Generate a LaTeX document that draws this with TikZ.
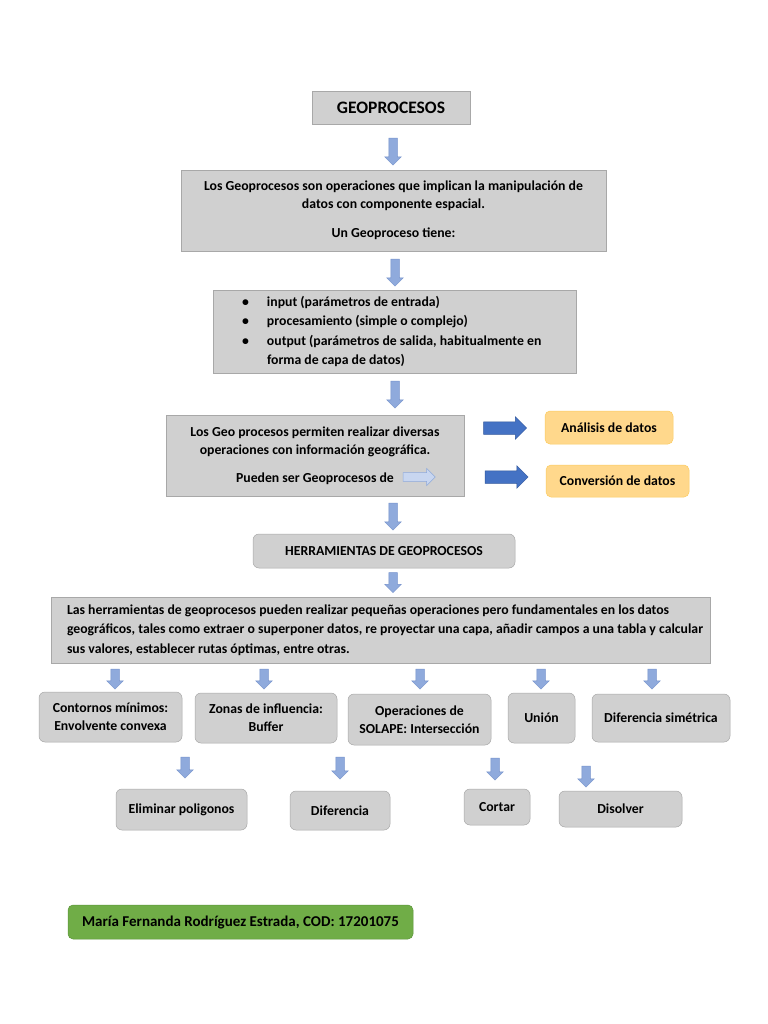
\documentclass[tikz,border=0pt]{standalone}
\usepackage{fontspec}
\setmainfont{Carlito}
\usepackage{xcolor}
\usepackage{tikz}
\usetikzlibrary{shapes.arrows,positioning}

\newdimen\px \px=0.2811mm

\definecolor{boxgray}{RGB}{208,208,208}
\definecolor{boxline}{RGB}{168,168,168}
\definecolor{arrowblue}{RGB}{143,170,220}
\definecolor{arrowline}{RGB}{118,146,204}
\definecolor{palefill}{RGB}{200,214,240}
\definecolor{darkblue}{RGB}{68,114,196}
\definecolor{darkline}{RGB}{50,88,156}
\definecolor{orfill}{RGB}{255,216,140}
\definecolor{orline}{RGB}{252,204,96}
\definecolor{grfill}{RGB}{112,173,71}
\definecolor{grline}{RGB}{92,150,58}

\tikzset{
  graybox/.style={draw=boxline, fill=boxgray, inner sep=0pt, align=flush center,
    font=\fontsize{11}{14.4}\selectfont\bfseries},
  roundbox/.style={graybox, rounded corners=6*\px},
  orbox/.style={graybox, draw=orline, fill=orfill, rounded corners=5*\px},
  downarrow/.style={single arrow, rotate=-90, draw=arrowline,
    fill=arrowblue, minimum width=16*\px, inner xsep=0pt, inner ysep=4*\px,
    single arrow head extend=4*\px},
  bluearrow/.style={single arrow, draw=darkline, fill=darkblue,
    minimum height=43*\px, minimum width=22*\px, inner xsep=0pt,
    inner ysep=6*\px, single arrow head extend=5*\px}
}

\begin{document}
\begin{tikzpicture}[x=0.2811mm, y=-0.2811mm]
  \useasboundingbox[fill=white] (0,0) rectangle (768,1024);

  \node[graybox, minimum width=158*\px, minimum height=33*\px,
    font=\fontsize{14}{17}\selectfont\bfseries] (title) at (391,107.5) {GEOPROCESOS};
  \node[downarrow, minimum height=27*\px] (a1) at (393,149.5) {};
  \node[graybox, minimum width=425*\px, minimum height=81*\px] (def) at (393.5,210.5)
    {Los Geoprocesos son operaciones que implican la manipulación de\\
     datos con componente espacial.\\[9pt]
     Un Geoproceso tiene:};
  \node[downarrow, minimum height=27*\px] (a2) at (395,270.5) {};
  \node[graybox, minimum height=83*\px, text width=363*\px, align=flush left,
    font=\fontsize{11}{15.6}\selectfont\bfseries] (parts) at (394.5,331.5)
    {\hspace*{29\px}\makebox[25\px][l]{\textbullet}input (parámetros de entrada)\\
     \hspace*{29\px}\makebox[25\px][l]{\textbullet}procesamiento (simple o complejo)\\
     \hspace*{29\px}\makebox[25\px][l]{\textbullet}output (parámetros de salida, habitualmente en\\
     \hspace*{54\px}forma de capa de datos)};
  \node[downarrow, minimum height=27*\px] (a3) at (395,392.5) {};
  \node[graybox, minimum width=298*\px, minimum height=81*\px] (uses) at (315,455.5)
    {Los Geo procesos permiten realizar diversas\\
     operaciones con información geográfica.\\[8pt]
     Pueden ser Geoprocesos de};
  \node[single arrow, draw=arrowblue, fill=palefill, minimum height=32*\px,
    minimum width=17*\px, inner xsep=0pt, inner ysep=4*\px,
    single arrow head extend=4*\px] (inl) at (417,477) {};

  \node[bluearrow] (b1) at (502,428) {};
  \node[bluearrow] (b2) at (503.5,477) {};
  \node[orbox, minimum width=128*\px, minimum height=33*\px] (anal) at (609,427.5) {Análisis de datos};
  \node[orbox, minimum width=143*\px, minimum height=32*\px] (conv) at (617.5,481) {Conversión de datos};

  \node[downarrow, minimum height=27*\px] (a4) at (393,514.5) {};
  \node[roundbox, minimum width=262*\px, minimum height=34*\px] (herr) at (384,551) {HERRAMIENTAS DE GEOPROCESOS};
  \node[downarrow, minimum height=20*\px] (a5) at (393,580.5) {};
  \node[graybox, minimum height=66*\px, text width=627*\px, inner xsep=16*\px, align=flush left,
    font=\fontsize{11}{15.6}\selectfont\bfseries] (tools) at (380.5,630)
    {Las herramientas de geoprocesos pueden realizar pequeñas operaciones pero fundamentales en los datos\\
     \mbox{geográficos, tales como extraer o superponer datos, re proyectar una capa, añadir campos a una tabla y calcular}\\
     sus valores, establecer rutas óptimas, entre otras.};

  % primera fila
  \node[downarrow, minimum height=20*\px] (t1) at (115,677) {};
  \node[downarrow, minimum height=20*\px] (t2) at (264,677) {};
  \node[downarrow, minimum height=20*\px] (t3) at (420,677) {};
  \node[downarrow, minimum height=20*\px] (t4) at (541,677) {};
  \node[downarrow, minimum height=20*\px] (t5) at (652,677) {};
  \node[roundbox, minimum width=143*\px, minimum height=50*\px] (cont) at (110.5,717) {Contornos mínimos:\\ Envolvente convexa};
  \node[roundbox, minimum width=142*\px, minimum height=50*\px] (zona) at (266,718) {Zonas de influencia:\\ Buffer};
  \node[roundbox, minimum width=143*\px, minimum height=51*\px] (sola) at (419.5,719.5) {Operaciones de\\ SOLAPE: Intersección};
  \node[roundbox, minimum width=67*\px, minimum height=50*\px] (union) at (541.5,718) {Unión};
  \node[roundbox, minimum width=138*\px, minimum height=48*\px] (dsim) at (661,718) {Diferencia simétrica};

  % segunda fila
  \node[downarrow, minimum height=21*\px] (s1) at (185,765.5) {};
  \node[downarrow, minimum height=22*\px] (s2) at (340,766) {};
  \node[downarrow, minimum height=22*\px] (s3) at (495,767) {};
  \node[downarrow, minimum height=21*\px] (s4) at (586,774.5) {};
  \node[roundbox, minimum width=131*\px, minimum height=41*\px] (elim) at (181.5,809.5) {Eliminar poligonos};
  \node[roundbox, minimum width=100*\px, minimum height=39*\px] (dif) at (340,810.5) {Diferencia};
  \node[roundbox, minimum width=66*\px, minimum height=36*\px] (cort) at (497,807) {Cortar};
  \node[roundbox, minimum width=123*\px, minimum height=36*\px] (disol) at (620.5,809) {Disolver};

  \node[graybox, draw=grline, fill=grfill, rounded corners=5*\px,
    minimum width=345*\px, minimum height=34*\px,
    font=\fontsize{12}{14.4}\selectfont\bfseries] (autor) at (240.5,922)
    {María Fernanda Rodríguez Estrada, COD: 17201075};
\end{tikzpicture}
\end{document}
